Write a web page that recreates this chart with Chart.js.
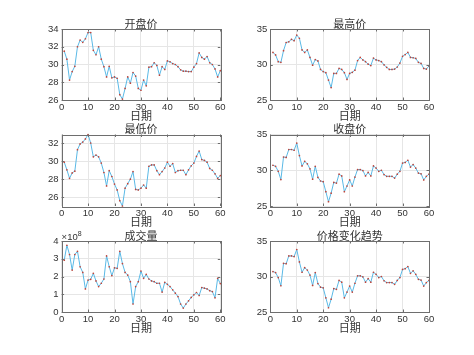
<!DOCTYPE html>
<html>
<head>
<meta charset="utf-8">
<script src="https://cdn.jsdelivr.net/npm/chart.js@4.4.1/dist/chart.umd.min.js"></script>
<style>
  html, body { margin: 0; padding: 0; background: #fff; }
  #fig { position: relative; width: 474px; height: 355px; background: #fff; }
  #fig canvas { position: absolute; left: 0; top: 0; }
</style>
</head>
<body>
<div id="fig"></div>
<script>
// days on the x axis
var days = [1,2,3,4,5,6,7,8,9,10,11,12,13,14,15,16,17,18,19,20,
            21,22,23,24,25,26,27,28,29,30,31,32,33,34,35,36,37,38,39,40,
            41,42,43,44,45,46,47,48,49,50,51,52,53,54,55,56,57,58,59,60];

// series
var openPrice = [31.5,30.6,28.25,29.2,29.8,32.0,32.75,32.5,32.9,33.6,33.6,31.6,31.1,32.0,30.6,29.75,28.6,29.8,28.5,28.6,
                 28.45,26.6,26.1,27.3,28.6,27.9,29.1,28.7,27.3,27.1,28.25,27.6,29.7,29.75,30.2,29.9,28.8,29.75,29.45,30.4,
                 30.3,30.1,30.0,29.75,29.4,29.25,29.25,29.2,29.2,29.7,30.1,31.3,30.8,30.6,30.9,30.2,30.0,29.5,28.6,29.3];
var highPrice = [31.7,31.35,30.4,30.3,31.95,33.1,33.2,33.55,33.35,34.15,33.7,32.05,31.7,32.05,31.0,29.9,30.7,30.5,29.3,29.0,
                 28.85,27.8,26.75,28.75,28.75,29.45,29.3,28.85,27.9,28.75,28.9,29.2,30.55,31.0,30.65,30.4,30.05,29.85,30.9,30.65,
                 30.55,30.4,29.95,29.6,29.3,29.3,29.35,29.65,30.2,31.15,31.4,31.7,31.0,30.95,30.85,30.3,30.15,29.45,29.35,29.8];
var lowPrice = [29.9,29.05,28.1,28.7,28.9,31.3,31.95,32.15,32.5,33.0,32.05,30.5,30.7,30.5,29.8,28.75,27.25,28.95,28.3,27.45,
                26.8,25.6,25.0,27.0,27.5,28.0,28.85,26.85,26.8,27.0,27.35,27.0,29.45,29.6,29.6,28.95,28.5,28.85,29.25,29.9,
                29.45,29.75,28.75,28.95,29.0,29.0,28.5,29.05,29.5,29.8,30.55,31.15,30.2,30.1,29.9,29.2,29.0,28.6,28.1,28.4];
var closePrice = [30.7,30.55,29.85,28.7,31.85,31.8,32.9,32.9,32.8,33.8,32.05,30.6,31.25,30.9,30.2,28.75,30.55,29.0,28.5,28.4,
                  27.0,25.6,26.8,28.3,28.2,29.45,29.2,27.0,27.8,28.65,27.8,29.05,30.1,30.1,29.95,29.2,29.7,29.2,30.6,30.3,
                  29.85,30.0,29.4,29.15,29.15,29.15,28.9,29.45,29.85,31.0,31.1,31.4,30.45,30.8,30.3,29.6,29.5,28.65,29.15,29.45];
// volume in units of 1e8
var volumeE8 = [2.92,3.76,3.24,2.36,3.24,3.42,2.55,2.23,1.30,1.80,1.84,2.18,1.75,1.43,1.62,1.86,3.16,2.55,2.05,2.49,
                2.46,3.42,2.73,2.23,2.08,1.71,0.45,1.43,1.71,2.31,1.90,2.12,1.86,1.75,1.71,1.62,1.62,1.12,1.67,1.56,
                1.43,1.25,1.06,0.87,0.45,0.22,0.45,0.63,0.82,0.97,1.10,0.93,1.38,1.34,1.30,1.2,1.15,0.8,1.9,1.6];

// tick labels
var xTicks = [0,10,20,30,40,50,60];
var priceTicks2 = [26,28,30,32,34];
var lowTicks = [26,28,30,32];
var priceTicks5 = [25,30,35];
var volTicks = [0,1,2,3,4];

var titles = ['开盘价','最高价','最低价','收盘价','成交量','价格变化趋势'];
var xLabel = '日期';

// axes boxes like matlab subplot(3,2,k): [left,right] and [top,bottom]
var colX = [[61.6,220.3],[270.3,429]];
var rowY = [[29,100],[134.5,206],[241,312]];

var panels = [
  {data: openPrice,  min: 26, max: 34, ticks: priceTicks2},
  {data: highPrice,  min: 25, max: 35, ticks: priceTicks5},
  {data: lowPrice,   min: 25, max: 33, ticks: lowTicks},
  {data: closePrice, min: 25, max: 35, ticks: priceTicks5},
  {data: volumeE8,   min: 0,  max: 4,  ticks: volTicks, exp: '8'},
  {data: closePrice, min: 25, max: 35, ticks: priceTicks5}
];

var axisColor = '#333333';
var tickFamily = '"Liberation Sans", Arial, sans-serif';
var cjkFont = '11px "Noto Sans CJK SC", sans-serif';
var yAxisW = 40, xAxisH = 20;

var matlabAxes = {
  id: 'matlabAxes',
  afterDatasetsDraw: function(chart, args, opts) {
    var ctx = chart.ctx, a = chart.chartArea;
    var xs = chart.scales.x, ys = chart.scales.y;
    ctx.save();
    ctx.strokeStyle = '#6e6e6e';
    ctx.lineWidth = 1;
    // box
    ctx.strokeRect(Math.round(a.left) + 0.5, Math.round(a.top) + 0.5,
                   Math.round(a.right - a.left), Math.round(a.bottom - a.top));
    // inward ticks
    ctx.beginPath();
    xs.ticks.forEach(function(t) {
      var px = Math.round(xs.getPixelForValue(t.value)) + 0.5;
      ctx.moveTo(px, a.bottom); ctx.lineTo(px, a.bottom - 2.5);
      ctx.moveTo(px, a.top); ctx.lineTo(px, a.top + 2.5);
    });
    ys.ticks.forEach(function(t) {
      var py = Math.round(ys.getPixelForValue(t.value)) + 0.5;
      ctx.moveTo(a.left, py); ctx.lineTo(a.left + 2.5, py);
      ctx.moveTo(a.right, py); ctx.lineTo(a.right - 2.5, py);
    });
    ctx.stroke();
    // title and x label
    ctx.fillStyle = axisColor;
    ctx.font = cjkFont;
    ctx.textAlign = 'center';
    ctx.textBaseline = 'bottom';
    var cx = (a.left + a.right) / 2;
    ctx.fillText(opts.title, cx, a.top);
    ctx.textBaseline = 'top';
    ctx.fillText(xLabel, cx, a.bottom + 10);
    // exponent label
    if (opts.exp) {
      ctx.textAlign = 'left';
      ctx.textBaseline = 'alphabetic';
      ctx.font = '9.5px ' + tickFamily;
      ctx.fillText('\u00d710', a.left, a.top - 1);
      var w = ctx.measureText('\u00d710').width;
      ctx.font = '7px ' + tickFamily;
      ctx.fillText(opts.exp, a.left + w, a.top - 5);
    }
    ctx.restore();
  }
};

var fig = document.getElementById('fig');
panels.forEach(function(p, k) {
  var col = k % 2, row = Math.floor(k / 2);
  var L = colX[col][0], R = colX[col][1], T = rowY[row][0], B = rowY[row][1];
  var cv = document.createElement('canvas');
  cv.width = 474; cv.height = 355;
  fig.appendChild(cv);
  new Chart(cv, {
    type: 'line',
    data: {
      datasets: [{
        data: p.data.map(function(v, i) { return {x: days[i], y: v}; }),
        borderColor: '#5ab9e6',
        borderWidth: 1,
        pointRadius: 0.85,
        pointBorderWidth: 0,
        pointBackgroundColor: '#c0453a',
        tension: 0,
        clip: false
      }]
    },
    options: {
      responsive: false,
      animation: false,
      events: [],
      layout: { padding: { left: L - yAxisW, top: T, right: 474 - R, bottom: 355 - B - xAxisH } },
      plugins: {
        legend: { display: false },
        tooltip: { enabled: false },
        matlabAxes: { title: titles[k], exp: p.exp }
      },
      scales: {
        x: {
          type: 'linear', min: 0, max: 60,
          afterFit: function(s) { s.height = xAxisH; },
          afterBuildTicks: function(s) { s.ticks = xTicks.map(function(v) { return {value: v}; }); },
          grid: { color: '#e6e6e6', drawTicks: false },
          border: { display: false },
          ticks: { color: axisColor, font: { family: tickFamily, size: 9.5 }, padding: 2, maxRotation: 0, autoSkip: false }
        },
        y: {
          type: 'linear', min: p.min, max: p.max,
          afterFit: function(s) { s.width = yAxisW; },
          afterBuildTicks: function(s) { s.ticks = p.ticks.map(function(v) { return {value: v}; }); },
          grid: { color: '#e6e6e6', drawTicks: false },
          border: { display: false },
          ticks: { color: axisColor, font: { family: tickFamily, size: 9.5 }, padding: 3, autoSkip: false }
        }
      }
    },
    plugins: [matlabAxes]
  });
});
</script>
</body>
</html>
